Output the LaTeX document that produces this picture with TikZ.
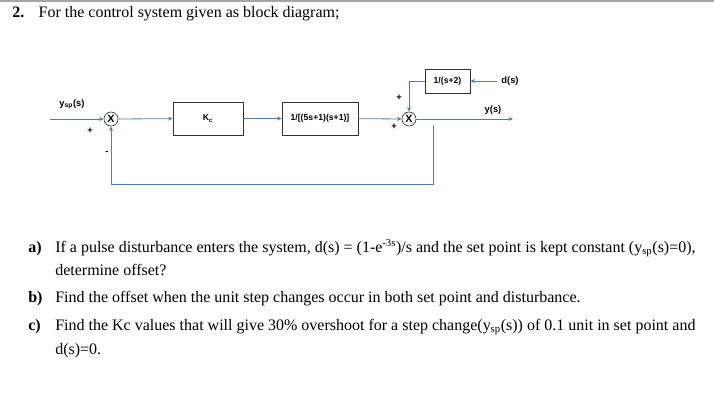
\documentclass[tikz,border=0pt]{standalone}
\usepackage{fontspec}
\setmainfont{Liberation Serif}
\setsansfont{Liberation Sans}
\usetikzlibrary{arrows.meta}
\definecolor{ln}{RGB}{80,125,170}
\tikzset{
 blk/.style={draw=black!80,line width=0.5pt,minimum height=33*0.75pt,inner sep=0pt,font=\sffamily\bfseries\fontsize{6.5}{7}\selectfont},
 sumj/.style={circle,draw=black!80,line width=0.5pt,minimum size=14*0.75pt,inner sep=0pt,font=\sffamily\bfseries\fontsize{8}{8}\selectfont},
 sig/.style={draw=ln,line width=0.6pt},
 arr/.style={sig,-{Stealth[length=3.5pt,width=3pt]}},
 lbl/.style={font=\sffamily\bfseries\fontsize{7}{8}\selectfont,inner sep=0pt},
 txt/.style={anchor=base west,inner sep=0pt,font=\fontsize{12}{14}\selectfont},
}
\begin{document}
\begin{tikzpicture}[x=0.75pt,y=-0.75pt]
\useasboundingbox (0,0) rectangle (714,401);
\fill[black!35] (0,0) rectangle (714,2);
\node[txt] (title) at (12,17) {\textbf{2.}\hspace{0.9em}For the control system given as block diagram;};
% blocks
\node[sumj] (s1) at (111,119) {X};
\node[blk,minimum width=70*0.75pt] (kc) at (208,118.5) {K\textsubscript{c}};
\node[blk,minimum width=76*0.75pt] (gp) at (320,118.5) {1/[(5s+1)(s+1)]};
\node[sumj] (s2) at (409,119) {X};
\node[blk,minimum width=45*0.75pt,minimum height=24*0.75pt] (gd) at (447.5,81) {1/(s+2)};
\coordinate (in) at (50,119);
\coordinate (out) at (513,119);
\coordinate (dd) at (497,81);
\coordinate (fb1) at (433,119);
\coordinate (fb2) at (433,184);
\coordinate (fb3) at (111,184);
\coordinate (dc) at (409,81);
\draw[arr] (in) -- (s1);
\draw[arr] (s1) -- (kc);
\draw[arr] (kc) -- (gp);
\draw[arr] (gp) -- (s2);
\draw[arr] (s2) -- (out);
\draw[arr] (dd) -- (gd);
\draw[sig] (gd.west) -- (dc);
\draw[arr] (dc) -- (s2);
\draw[sig] (fb1 |- 0,125) -- (fb2) -- (fb3);
\draw[arr] (fb3) -- (s1);
\node[lbl] (ysp) at (72,104) {y\textsubscript{sp}(s)};
\node[lbl] (ds) at (510,81) {d(s)};
\node[lbl] (ys) at (493,110) {y(s)};
\node[lbl] (p1) at (90,131) {+};
\node[lbl] (m1) at (107,153) {-};
\node[lbl] (p2) at (399,98) {+};
\node[lbl] (p3) at (394,127) {+};
% questions
\node[txt] (qa) at (28,252) {\textbf{a)}};
\node[txt] (ta) at (55,252) {If a pulse disturbance enters the system, d(s) = (1-e\textsuperscript{-3s})/s and the set point is kept constant (y\textsubscript{sp}(s)=0),};
\node[txt] (ta2) at (55,275) {determine offset?};
\node[txt] (qb) at (28,302) {\textbf{b)}};
\node[txt] (tb) at (55,302) {Find the offset when the unit step changes occur in both set point and disturbance.};
\node[txt] (qc) at (28,330) {\textbf{c)}};
\node[txt] (tc) at (55,330) {Find the Kc values that will give 30\% overshoot for a step change(y\textsubscript{sp}(s)) of 0.1 unit in set point and};
\node[txt] (tc2) at (55,354) {d(s)=0.};
\end{tikzpicture}
\end{document}
